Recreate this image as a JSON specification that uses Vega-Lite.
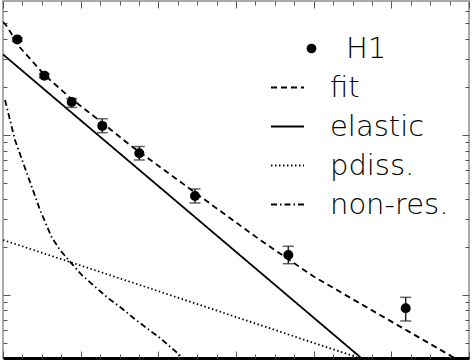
{
  "$schema": "https://vega.github.io/schema/vega-lite/v6.json",
  "width": 466,
  "height": 357,
  "autosize": {"type": "none"},
  "padding": {"left": 3, "top": 1, "right": 5, "bottom": 3},
  "background": "white",
  "config": {
    "view": {"stroke": "#aaaaaa", "strokeWidth": 2},
    "axis": {"labels": false, "domain": false, "grid": false, "ticks": true, "tickColor": "#555555", "tickWidth": 1}
  },
  "datasets": {
    "h1": [
      {"src": "H1", "t": 0.0368, "v": 39.6, "lo": 38.6, "hi": 40.6},
      {"src": "H1", "t": 0.1064, "v": 23.5, "lo": 22.8, "hi": 24.2},
      {"src": "H1", "t": 0.1769, "v": 16.1, "lo": 14.87, "hi": 16.9},
      {"src": "H1", "t": 0.2557, "v": 11.4, "lo": 10.33, "hi": 12.64},
      {"src": "H1", "t": 0.351, "v": 7.69, "lo": 6.98, "hi": 8.47},
      {"src": "H1", "t": 0.4944, "v": 4.16, "lo": 3.76, "hi": 4.6},
      {"src": "H1", "t": 0.7347, "v": 1.78, "lo": 1.569, "hi": 2.016},
      {"src": "H1", "t": 1.037, "v": 0.826, "lo": 0.688, "hi": 0.967}
    ],
    "curves": [
      {"series": "fit", "t": 0.0, "v": 50.8},
      {"series": "fit", "t": 0.0077, "v": 48.7},
      {"series": "fit", "t": 0.0438, "v": 35.2},
      {"series": "fit", "t": 0.1056, "v": 23.9},
      {"series": "fit", "t": 0.1725, "v": 17.1},
      {"series": "fit", "t": 0.2395, "v": 12.8},
      {"series": "fit", "t": 0.327, "v": 8.66},
      {"series": "fit", "t": 0.4043, "v": 6.31},
      {"series": "fit", "t": 0.533, "v": 3.73},
      {"series": "fit", "t": 0.6618, "v": 2.21},
      {"series": "fit", "t": 0.8009, "v": 1.3},
      {"series": "fit", "t": 0.9708, "v": 0.75},
      {"series": "fit", "t": 1.1537, "v": 0.416},
      {"series": "fit", "t": 1.164, "v": 0.402},
      {"series": "elastic", "t": 0.0, "v": 31.9},
      {"series": "elastic", "t": 0.1983, "v": 12.45},
      {"series": "elastic", "t": 0.4043, "v": 4.7},
      {"series": "elastic", "t": 0.8163, "v": 0.668},
      {"series": "elastic", "t": 0.9219, "v": 0.405},
      {"series": "pdiss.", "t": 0.0, "v": 2.207},
      {"series": "pdiss.", "t": 0.4043, "v": 1.049},
      {"series": "pdiss.", "t": 0.8163, "v": 0.487},
      {"series": "pdiss.", "t": 0.9116, "v": 0.408},
      {"series": "non-res.", "t": 0.0052, "v": 16.55},
      {"series": "non-res.", "t": 0.018, "v": 12.41},
      {"series": "non-res.", "t": 0.0309, "v": 9.306},
      {"series": "non-res.", "t": 0.0523, "v": 6.655},
      {"series": "non-res.", "t": 0.0739, "v": 4.753},
      {"series": "non-res.", "t": 0.0953, "v": 3.399},
      {"series": "non-res.", "t": 0.1254, "v": 2.294},
      {"series": "non-res.", "t": 0.1468, "v": 1.911},
      {"series": "non-res.", "t": 0.1725, "v": 1.615},
      {"series": "non-res.", "t": 0.2027, "v": 1.334},
      {"series": "non-res.", "t": 0.2369, "v": 1.127},
      {"series": "non-res.", "t": 0.2712, "v": 0.9537},
      {"series": "non-res.", "t": 0.3057, "v": 0.826},
      {"series": "non-res.", "t": 0.3399, "v": 0.705},
      {"series": "non-res.", "t": 0.3742, "v": 0.6105},
      {"series": "non-res.", "t": 0.4043, "v": 0.5386},
      {"series": "non-res.", "t": 0.4602, "v": 0.4116}
    ]
  },
  "resolve": {"axis": {"x": "independent", "y": "independent"}},
  "layer": [
    {
      "data": {"name": "h1"},
      "mark": {"type": "rule", "color": "#222222", "strokeWidth": 1.5},
      "encoding": {
        "x": {"field": "t", "type": "quantitative", "scale": {"domain": [0, 1.2], "nice": false, "zero": false},
          "axis": {"orient": "bottom", "title": null, "values": [0, 0.2, 0.4, 0.6, 0.8, 1.0, 1.2], "tickSize": -7, "domain": true, "domainColor": "black", "domainWidth": 3}},
        "y": {"field": "lo", "type": "quantitative", "scale": {"type": "log", "domain": [0.4038, 68.8], "nice": false},
          "axis": {"orient": "left", "title": null, "values": [1, 10], "tickSize": -7}},
        "y2": {"field": "hi"}
      }
    },
    {
      "data": {"name": "h1"},
      "mark": {"type": "tick", "orient": "horizontal", "color": "#222222", "size": 11, "thickness": 1.5},
      "encoding": {
        "x": {"field": "t", "type": "quantitative", "scale": {"domain": [0, 1.2], "nice": false, "zero": false},
          "axis": {"orient": "bottom", "title": null, "values": [0.05, 0.1, 0.15, 0.25, 0.3, 0.35, 0.45, 0.5, 0.55, 0.65, 0.7, 0.75, 0.85, 0.9, 0.95, 1.05, 1.1, 1.15], "tickSize": -4}},
        "y": {"field": "lo", "type": "quantitative", "scale": {"type": "log", "domain": [0.4038, 68.8], "nice": false},
          "axis": {"orient": "left", "title": null, "values": [0.5, 0.6, 0.7, 0.8, 0.9, 2, 3, 4, 5, 6, 7, 8, 9, 20, 30, 40, 50, 60], "tickSize": -4}}
      }
    },
    {
      "data": {"name": "h1"},
      "mark": {"type": "tick", "orient": "horizontal", "color": "#222222", "size": 11, "thickness": 1.5},
      "encoding": {
        "x": {"field": "t", "type": "quantitative", "scale": {"domain": [0, 1.2], "nice": false, "zero": false},
          "axis": {"orient": "top", "title": null, "values": [0, 0.2, 0.4, 0.6, 0.8, 1.0, 1.2], "tickSize": -7}},
        "y": {"field": "hi", "type": "quantitative", "scale": {"type": "log", "domain": [0.4038, 68.8], "nice": false},
          "axis": {"orient": "right", "title": null, "values": [1, 10], "tickSize": -7}}
      }
    },
    {
      "data": {"name": "h1"},
      "mark": {"type": "point", "filled": true, "color": "black", "opacity": 1, "size": 100},
      "encoding": {
        "x": {"field": "t", "type": "quantitative", "scale": {"domain": [0, 1.2], "nice": false, "zero": false},
          "axis": {"orient": "top", "title": null, "values": [0.05, 0.1, 0.15, 0.25, 0.3, 0.35, 0.45, 0.5, 0.55, 0.65, 0.7, 0.75, 0.85, 0.9, 0.95, 1.05, 1.1, 1.15], "tickSize": -4}},
        "y": {"field": "v", "type": "quantitative", "scale": {"type": "log", "domain": [0.4038, 68.8], "nice": false},
          "axis": {"orient": "right", "title": null, "values": [0.5, 0.6, 0.7, 0.8, 0.9, 2, 3, 4, 5, 6, 7, 8, 9, 20, 30, 40, 50, 60], "tickSize": -4}},
        "shape": {"field": "src", "type": "nominal", "scale": {"range": ["circle"]},
          "legend": {"orient": "none", "legendX": 294, "legendY": 33, "title": null, "padding": 0,
            "symbolSize": 95, "symbolFillColor": "black", "symbolStrokeColor": "black", "symbolStrokeWidth": 0,
            "labelFont": "DejaVu Sans", "labelFontWeight": 200, "labelFontSize": 29, "labelColor": "black", "labelOffset": 20, "labelLimit": 300}}
      }
    },
    {
      "data": {"name": "curves"},
      "mark": {"type": "line", "color": "black", "strokeWidth": 1.8, "clip": true},
      "encoding": {
        "x": {"field": "t", "type": "quantitative", "scale": {"domain": [0, 1.2], "nice": false, "zero": false}, "axis": null},
        "y": {"field": "v", "type": "quantitative", "scale": {"type": "log", "domain": [0.4038, 68.8], "nice": false}, "axis": null},
        "strokeDash": {"field": "series", "type": "nominal",
          "scale": {"domain": ["fit", "elastic", "pdiss.", "non-res."], "range": [[6, 4], [1, 0], [1.5, 2.5], [6, 3, 1.5, 3]]},
          "legend": {"orient": "none", "legendX": 267, "legendY": 69, "title": null, "padding": 0,
            "symbolType": "stroke", "symbolSize": 1089, "symbolStrokeWidth": 2, "symbolStrokeColor": "black",
            "labelFont": "DejaVu Sans", "labelFontWeight": 200, "labelFontSize": 29, "labelColor": "black", "labelOffset": 25, "rowPadding": 6, "labelLimit": 300}}
      }
    }
  ]
}
